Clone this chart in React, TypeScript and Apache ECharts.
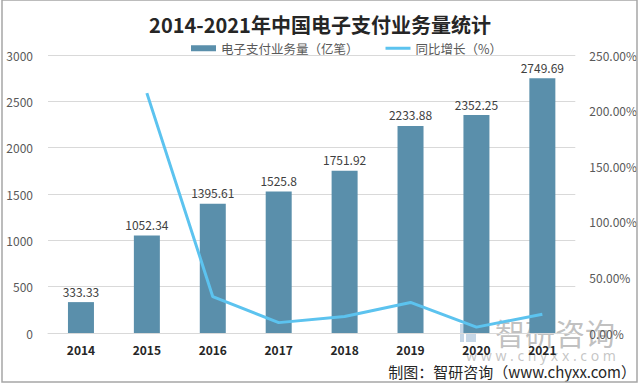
import React, { useEffect, useRef } from "react";
import * as echarts from "echarts";

const years = ["2014", "2015", "2016", "2017", "2018", "2019", "2020", "2021"];
const volume = [333.33, 1052.34, 1395.61, 1525.8, 1751.92, 2233.88, 2352.25, 2749.69];
const growth = [null, 215.71, 32.62, 9.33, 14.82, 27.51, 5.3, 16.9];
const leftTicks = { min: 0, max: 3000, interval: 500 };
const rightTicks = { min: 0, max: 250, interval: 50 };

export default function App() {
  const ref = useRef<HTMLDivElement>(null);
  useEffect(() => {
    document.body.style.margin = "0";
    const chart = echarts.init(ref.current!, null, { renderer: "svg" });
    const font = "'Noto Sans CJK SC', 'Noto Sans', sans-serif";
    chart.setOption({
      animation: false,
      backgroundColor: "#ffffff",
      textStyle: { fontFamily: font },
      title: {
        text: "2014-2021年中国电子支付业务量统计",
        left: "center",
        top: 9,
        textStyle: { fontSize: 20, fontWeight: "bold", color: "#262626", fontFamily: font },
      },
      legend: {
        top: 37,
        left: 186,
        itemGap: 27,
        itemWidth: 25,
        itemHeight: 6,
        textStyle: { fontSize: 12.5, color: "#595959", fontFamily: font },
        data: [
          { name: "电子支付业务量（亿笔）", icon: "rect" },
          { name: "同比增长（%）", icon: "path://M0,0 L25,0 L25,3 L0,3 Z" },
        ],
      },
      grid: { left: 48, right: 64, top: 55, bottom: 51 },
      xAxis: {
        type: "category",
        data: years,
        axisTick: { show: false },
        axisLine: { show: true, lineStyle: { color: "#d9d9d9" } },
        axisLabel: { fontSize: 12, fontWeight: "bold", color: "#262626", margin: 10, fontFamily: font },
      },
      yAxis: [
        {
          type: "value",
          ...leftTicks,
          axisLine: { show: false },
          axisTick: { show: false },
          splitLine: { lineStyle: { color: "#d9d9d9" } },
          axisLabel: {
            fontSize: 12,
            color: "#595959",
            margin: 15,
            fontFamily: font,
            formatter: (v: number) => String(v),
          },
        },
        {
          type: "value",
          ...rightTicks,
          axisLine: { show: false },
          axisTick: { show: false },
          splitLine: { show: false },
          axisLabel: {
            fontSize: 12,
            color: "#595959",
            margin: 14,
            fontFamily: font,
            formatter: (v: number) => v.toFixed(2) + "%",
          },
        },
      ],
      series: [
        {
          name: "电子支付业务量（亿笔）",
          type: "bar",
          data: volume,
          barWidth: 26,
          itemStyle: { color: "#5a8fab" },
          label: {
            show: true,
            position: "top",
            distance: 5,
            fontSize: 12,
            color: "#404040",
            fontFamily: font,
          },
        },
        {
          name: "同比增长（%）",
          type: "line",
          yAxisIndex: 1,
          data: growth,
          symbol: "none",
          lineStyle: { color: "#5cc3ef", width: 3 },
          itemStyle: { color: "#5cc3ef" },
          z: 3,
        },
      ],
      graphic: [
        {
          type: "rect",
          shape: { x: 2, y: 0, width: 635, height: 382 },
          style: { fill: "none", stroke: "#a6a6a6", lineWidth: 1.5 },
          z: 100,
        },
        {
          type: "group",
          z: 50,
          children: [
            { type: "rect", shape: { x: 460, y: 324, width: 4, height: 18 }, style: { fill: "rgba(150,180,210,0.55)" } },
            { type: "rect", shape: { x: 466, y: 324, width: 10, height: 8 }, style: { fill: "rgba(150,180,210,0.55)" } },
            { type: "rect", shape: { x: 466, y: 334, width: 10, height: 8 }, style: { fill: "rgba(150,180,210,0.55)" } },
            {
              type: "text",
              style: {
                x: 495,
                y: 332,
                text: "智研咨询",
                font: "30px 'Noto Sans CJK SC'",
                fill: "rgba(140,140,140,0.55)",
                textVerticalAlign: "middle",
                textAlign: "left",
              },
            },
            {
              type: "text",
              style: {
                x: 541,
                y: 355,
                text: "w w w . c h y x x . c o m",
                font: "14px 'Noto Sans'",
                fill: "rgba(160,160,160,0.6)",
                textVerticalAlign: "middle",
                textAlign: "center",
              },
            },
          ],
        },
        {
          type: "text",
          z: 60,
          style: {
            x: 636,
            y: 371,
            text: "制图：智研咨询（www.chyxx.com）",
            font: "15px 'Noto Sans CJK SC'",
            fill: "#262626",
            textAlign: "right",
            textVerticalAlign: "middle",
          },
        },
      ],
    });
    return () => chart.dispose();
  }, []);
  return (
    <div
      ref={ref}
      style={{ position: "absolute", left: 0, top: 0, width: 640, height: 384 }}
    />
  );
}
